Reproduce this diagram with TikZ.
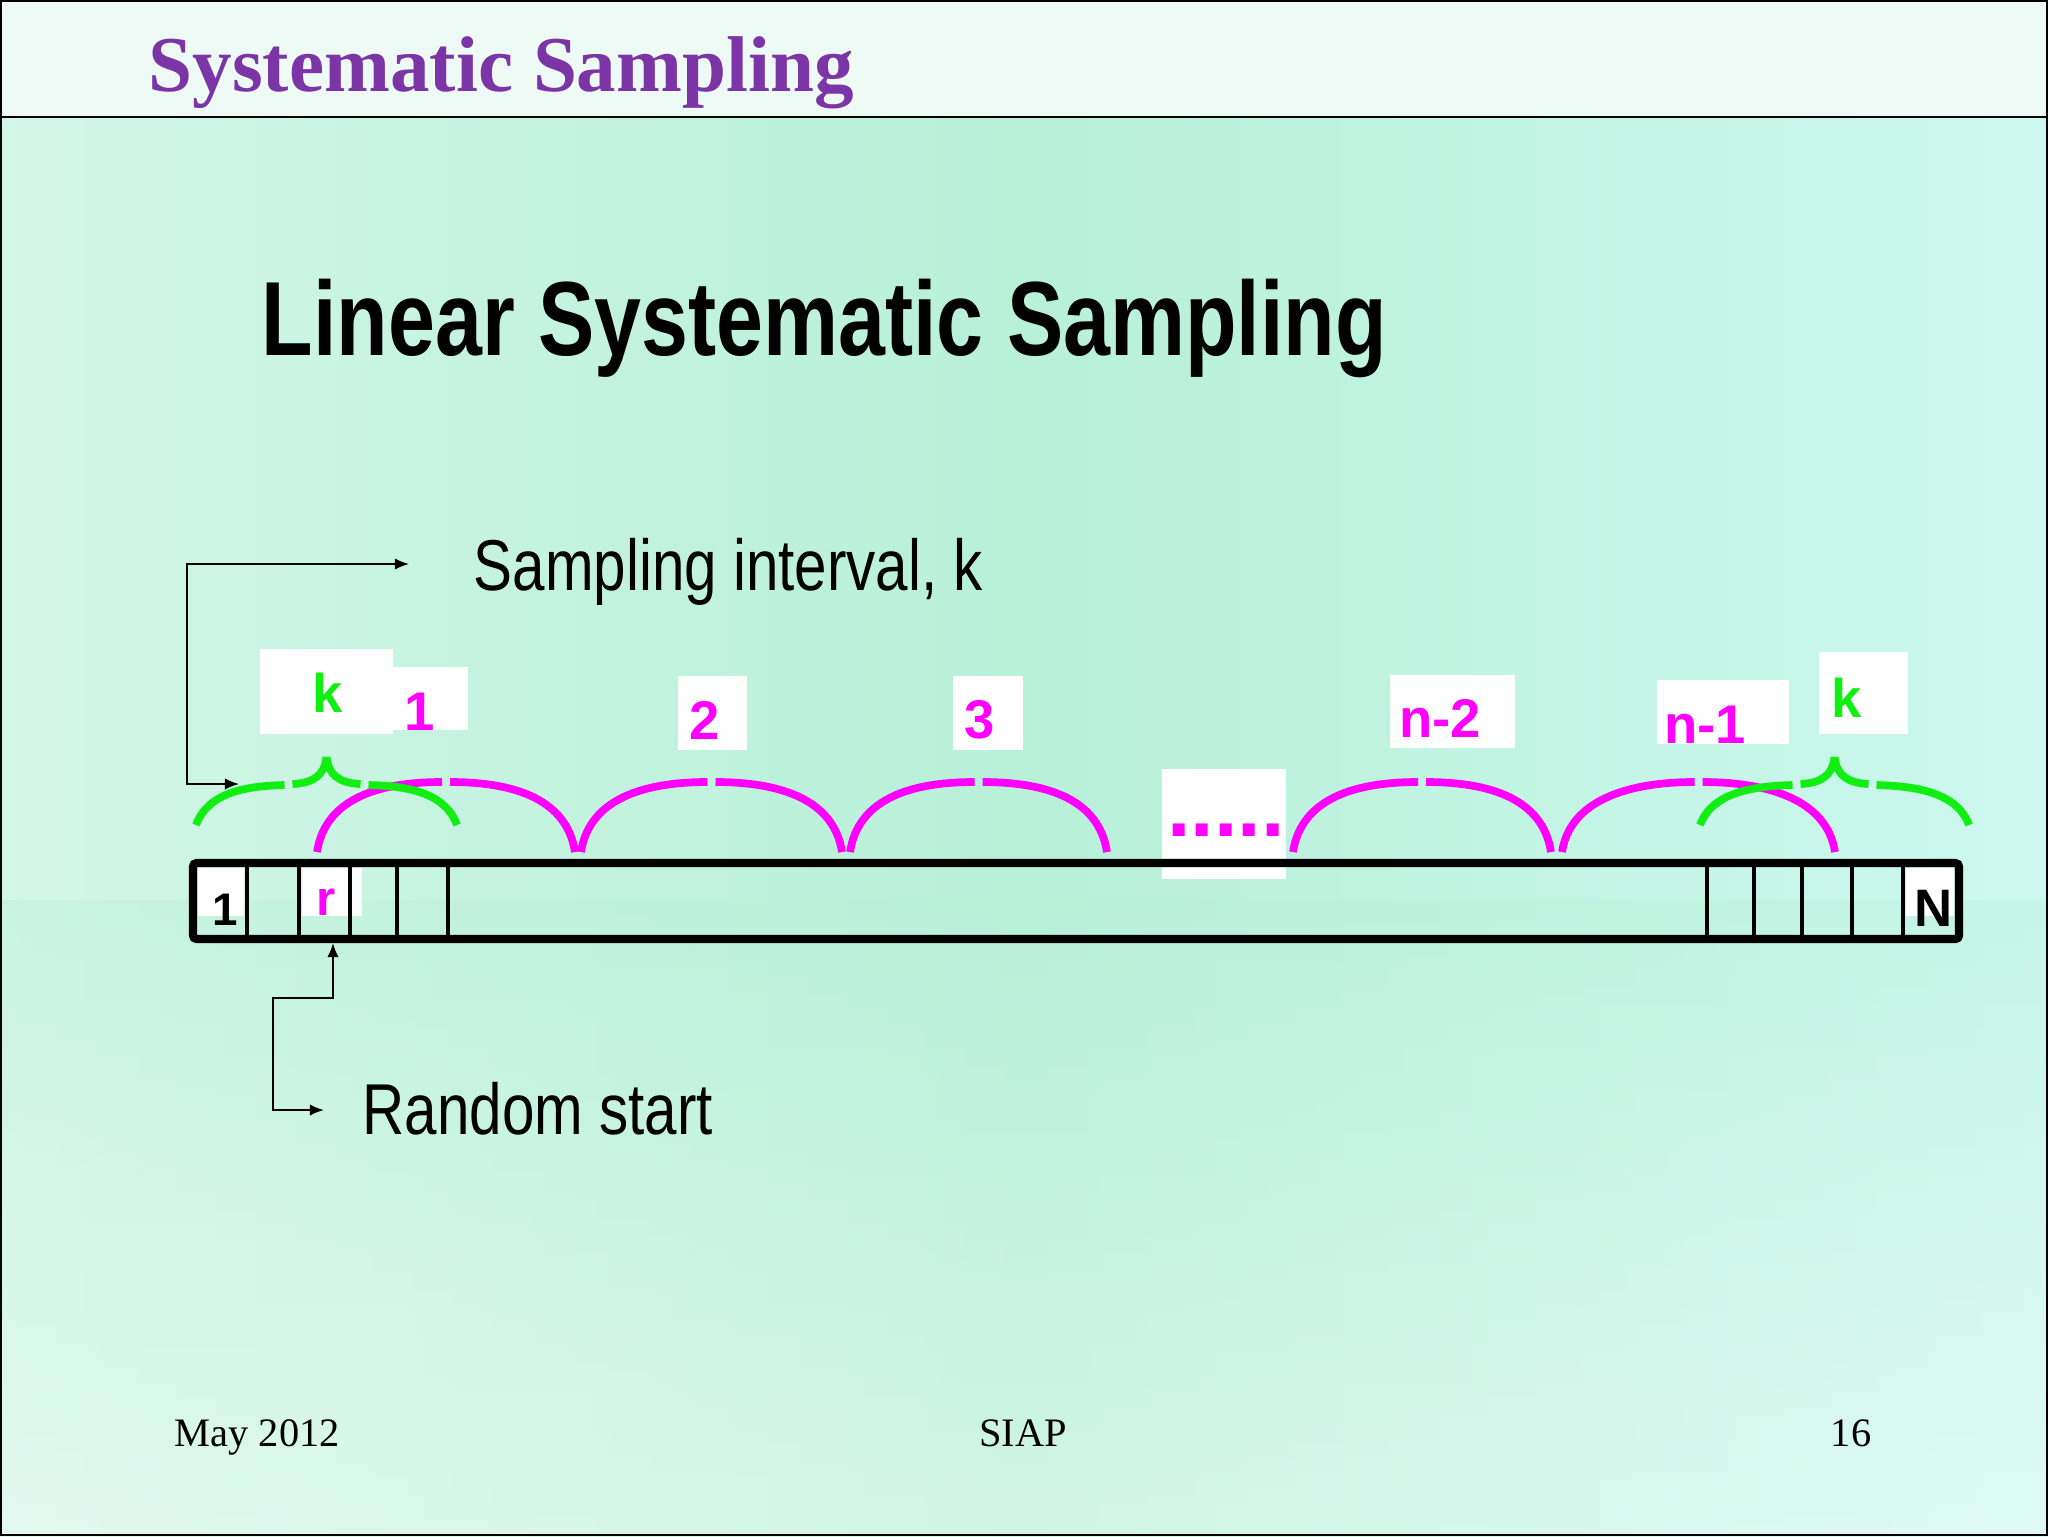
\documentclass[tikz,border=0pt]{standalone}
\usepackage{fontspec}
\setmainfont{Liberation Serif}
\newfontfamily\arial{Liberation Sans}
\usetikzlibrary{arrows.meta}
\definecolor{bgl}{HTML}{D2F6E8}
\definecolor{bgm}{HTML}{B8F0D8}
\definecolor{bgr}{HTML}{CDF8EF}
\definecolor{hdr}{HTML}{EEFAF5}
\definecolor{purp}{HTML}{7B35A6}
\definecolor{mag}{HTML}{FF00FF}
\definecolor{grn}{HTML}{11EE11}
\newcommand{\mybrm}[2]{% x1, x2 magenta brace
  \pgfmathsetmacro\xm{(#1+#2)/2}
  \draw[mbr] (#1,852) .. controls (#1+8,800) and (\xm-70,782) .. (\xm-4,782);
  \draw[mbr] (#2,852) .. controls (#2-8,800) and (\xm+70,782) .. (\xm+4,782);}
\newcommand{\mybrg}[2]{% x1, x2 green brace
  \pgfmathsetmacro\xm{(#1+#2)/2}
  \draw[gbr] (#1,825) .. controls (#1+12,792) and (\xm-80,786) .. (\xm-42,785);
  \draw[gbr] (\xm-34,784) .. controls (\xm-14,783) and (\xm-2,776) .. (\xm,757);
  \draw[gbr] (#2,825) .. controls (#2-12,792) and (\xm+80,786) .. (\xm+42,785);
  \draw[gbr] (\xm+34,784) .. controls (\xm+14,783) and (\xm+2,776) .. (\xm,757);}
\begin{document}
\begin{tikzpicture}[x=0.1mm,y=-0.1mm,
  mbr/.style={draw=mag,line width=2.2pt},
  gbr/.style={draw=grn,line width=2.2pt},
  blab/.style={font=\arial\bfseries\fontsize{15.5}{16}\selectfont},
  conn/.style={line width=0.5pt},
  tip/.style={{Latex[length=4pt,width=3.2pt]}-{Latex[length=4pt,width=3.2pt]}},
  cell/.style={line width=1pt}]
\useasboundingbox (0,0) rectangle (2048,1536);
\shade[left color=bgl,right color=bgr,middle color=bgm] (0,0) rectangle (2048,1536);
\shade[top color=bgm,bottom color=white,opacity=0.35] (0,900) rectangle (2048,1536);
\fill[hdr] (0,0) rectangle (2048,117);
\draw[line width=0.5pt] (0,117) -- (2048,117);
\draw[line width=0.5pt] (1,1) rectangle (2047,1535);
\node[anchor=base west,inner sep=0pt,text=purp,font=\bfseries\fontsize{22.5}{24}\selectfont] (hd) at (148,91) {Systematic Sampling};
\node[anchor=base west,inner sep=0pt] (ttl) at (261,355) {\scalebox{0.80}[1]{\arial\bfseries\fontsize{30}{32}\selectfont Linear Systematic Sampling}};
\node[anchor=base west,inner sep=0pt] (si) at (473,590) {\scalebox{0.81}[1]{\arial\fontsize{20.5}{22}\selectfont Sampling interval, k}};
\node[anchor=base west,inner sep=0pt] (rs) at (362,1134) {\scalebox{0.81}[1]{\arial\fontsize{20.5}{22}\selectfont Random start}};
% label boxes
\fill[white] (260,649) rectangle (393,734);
\fill[white] (393,667) rectangle (468,730);
\fill[white] (678,676) rectangle (747,750);
\fill[white] (953,676) rectangle (1023,750);
\fill[white] (1390,675) rectangle (1515,748);
\fill[white] (1657,680) rectangle (1789,744);
\fill[white] (1819,652) rectangle (1908,734);
\fill[white] (1162,769) rectangle (1286,879);
\node[blab,text=grn] (k1) at (328,693) {k};
\node[blab,text=mag] (l1) at (420,712) {1};
\node[blab,text=mag] (l2) at (705,720) {2};
\node[blab,text=mag] (l3) at (980,720) {3};
\node[blab,text=mag] (ln2) at (1440,718) {n-2};
\node[blab,text=mag] (ln1) at (1705,725) {n-1};
\node[blab,text=grn] (k2) at (1847,698) {k};
\node[text=mag,font=\arial\bfseries\fontsize{24}{24}\selectfont] (dots) at (1226,830) {.....};
% braces
\mybrm{317}{575}
\mybrm{581}{842}
\mybrm{850}{1107}
\mybrm{1293}{1551}
\mybrm{1562}{1835}
\mybrg{196}{457}
\mybrg{1700}{1969}
% bar
\fill[white] (198,868) rectangle (244,916);
\fill[white] (302,868) rectangle (362,916);
\fill[white] (1906,868) rectangle (1954,916);
\draw[line width=2.3pt,rounded corners=1pt] (193,863) rectangle (1959,939);
\foreach \x in {247,299,350,397,448,1707,1754,1802,1852,1903} \draw[cell] (\x,863) -- (\x,939);
\node[font=\arial\bfseries\fontsize{13}{13}\selectfont] (c1) at (225,910) {1};
\node[text=mag,font=\arial\bfseries\fontsize{14}{14}\selectfont] (cr) at (326,902) {r};
\node[font=\arial\bfseries\fontsize{15}{15}\selectfont] (cN) at (1934,908) {N};
% connectors
\coordinate (a0) at (187,784);
\coordinate (a1) at (187,564);
\coordinate (a2) at (409,564);
\coordinate (a3) at (239,784);
\draw[conn,tip] (a3) -- (a0) -- (a1) -- (a2);
\coordinate (b0) at (333,943);
\coordinate (b1) at (333,998);
\coordinate (b2) at (273,998);
\coordinate (b3) at (273,1110);
\coordinate (b4) at (324,1110);
\draw[conn,tip] (b0) -- (b1) -- (b2) -- (b3) -- (b4);
% footer
\node[anchor=base west,inner sep=0pt,font=\fontsize{11.5}{12}\selectfont] (f1) at (174,1446) {May 2012};
\node[anchor=base,inner sep=0pt,font=\fontsize{11.5}{12}\selectfont] (f2) at (1023,1446) {SIAP};
\node[anchor=base east,inner sep=0pt,font=\fontsize{11.5}{12}\selectfont] (f3) at (1872,1446) {16};
\end{tikzpicture}
\end{document}
